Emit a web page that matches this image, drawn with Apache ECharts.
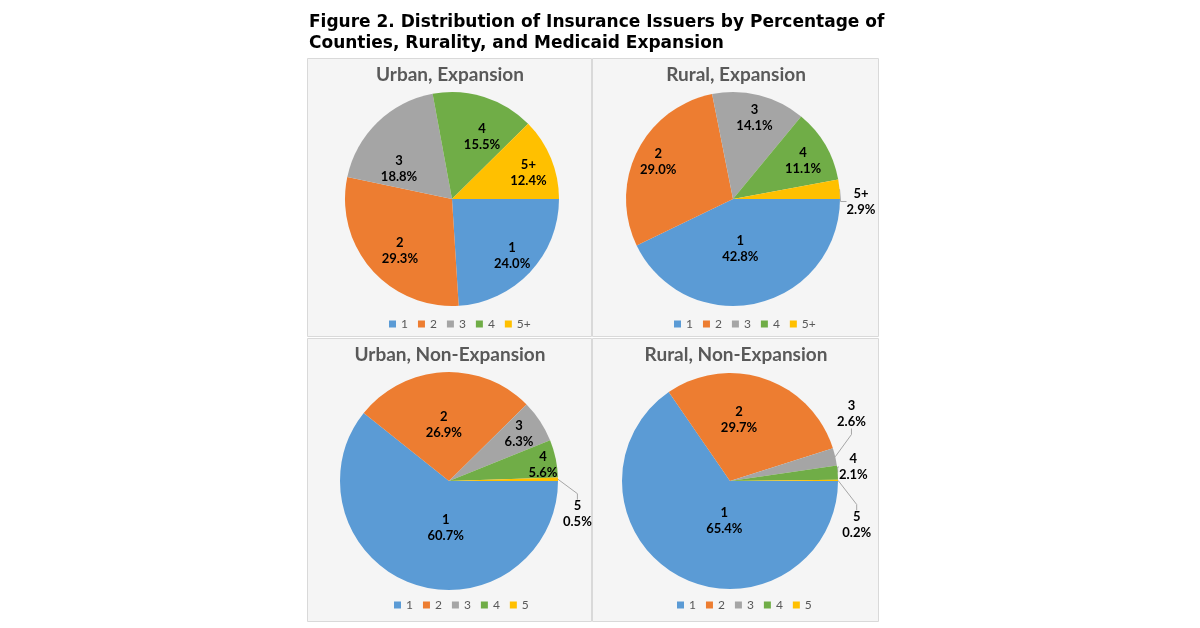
<!DOCTYPE html>
<html>
<head>
<meta charset="utf-8">
<title>Figure 2</title>
<script src="https://cdn.jsdelivr.net/npm/echarts@6/dist/echarts.min.js"></script>
<style>
  html, body { margin: 0; padding: 0; background: #fff; }
  #chart { width: 1200px; height: 628px; }
</style>
</head>
<body>
<div id="chart"></div>
<script>
// data (percent of counties)
const issuersExp = ['1', '2', '3', '4', '5+'];
const issuersNon = ['1', '2', '3', '4', '5'];
const urbanExpansion = [24.0, 29.3, 18.8, 15.5, 12.4];
const ruralExpansion = [42.8, 29.0, 14.1, 11.1, 2.9];
const urbanNonExpansion = [60.7, 26.9, 6.3, 5.6, 0.5];
const ruralNonExpansion = [65.4, 29.7, 2.6, 2.1, 0.2];

const colors = ['#5b9bd5', '#ed7d31', '#a5a5a5', '#70ad47', '#ffc000'];

// layout of the 4 panels
// labelR: radial spot of inside labels (null -> outside label), nudge: small label shifts
const panels = [
  { title: 'Urban, Expansion', names: issuersExp, values: urbanExpansion,
    box: [307, 58, 284, 278], center: [452, 199], r: 107, legendX: 389, legendY: 318,
    labelR: [0.73, 0.68, 0.57, 0.65, 0.75],
    nudge: { 1: [6, 2], 2: [-8, 16], 3: [8, 8], 4: [-2, 6] } },
  { title: 'Rural, Expansion', names: issuersExp, values: ruralExpansion,
    box: [592, 58, 286, 278], center: [733, 199], r: 107, legendX: 674, legendY: 318,
    labelR: [0.45, 0.74, 0.78, 0.74, null],
    nudge: { 0: [-4, 0], 2: [0, 4], 3: [-2, 4], 4: [-12, 13] } },
  { title: 'Urban, Non-Expansion', names: issuersNon, values: urbanNonExpansion,
    box: [307, 338, 284, 283], center: [449, 481], r: 109, legendX: 394, legendY: 599,
    labelR: [0.43, 0.52, 0.77, 0.88, null],
    nudge: { 0: [13, 0], 1: [-2, 4], 2: [-4, 1], 3: [-5, 5], 4: [-14, 35] } },
  { title: 'Rural, Non-Expansion', names: issuersNon, values: ruralNonExpansion,
    box: [592, 338, 286, 283], center: [730, 481], r: 108, legendX: 677, legendY: 599,
    labelR: [0.39, 0.57, null, null, null],
    nudge: { 0: [15, 0], 1: [-12, 0], 2: [-12, -41], 3: [-13, -19], 4: [-4, 8] } }
];

const chart = echarts.init(document.getElementById('chart'));

const graphic = [];
const series = [];
const legend = [];

panels.forEach(function (p) {
  graphic.push({
    type: 'rect', z: 0,
    shape: { x: p.box[0] + 0.5, y: p.box[1] + 0.5, width: p.box[2], height: p.box[3] },
    style: { fill: '#f5f5f5', stroke: '#d9d9d9', lineWidth: 1 }
  });
  graphic.push({
    type: 'text', z: 5,
    style: {
      text: p.title, x: p.box[0] + p.box[2] / 2 + 1, y: p.box[1] + 17,
      align: 'center', verticalAlign: 'middle',
      fontFamily: 'Lato', fontWeight: 'bold', fontSize: 19, fill: '#595959'
    }
  });

  const cx = p.center[0], cy = p.center[1];
  series.push({
    type: 'pie',
    center: p.center,
    radius: [0, p.r],
    startAngle: 0,
    clockwise: true,
    avoidLabelOverlap: true,
    animation: false,
    emphasis: { disabled: true },
    data: p.names.map(function (n, i) {
      const inside = p.labelR[i] != null;
      return {
        name: n, value: p.values[i],
        itemStyle: { color: colors[i] },
        label: { position: inside ? 'inside' : 'outside' },
        labelLine: { show: !inside }
      };
    }),
    label: {
      formatter: function (d) {
        return '{a|' + d.name + '}\n{a|' + d.value.toFixed(1) + '%}';
      },
      rich: {
        a: { fontFamily: 'Lato', fontWeight: 'bold', fontSize: 13, lineHeight: 16,
             color: '#000', align: 'center' }
      }
    },
    labelLine: { length: 8, length2: 6, lineStyle: { color: '#a6a6a6', width: 1 } },
    labelLayout: function (d) {
      const f = p.labelR[d.dataIndex];
      const n = p.nudge[d.dataIndex] || [0, 0];
      const rc = d.labelRect;
      if (f == null) {
        // outside labels: left aligned, middle anchored; absolute x/y so the leader line follows
        return { x: rc.x + n[0], y: rc.y + rc.height / 2 + n[1], align: 'left', verticalAlign: 'middle' };
      }
      const lx = rc.x + rc.width / 2;
      const ly = rc.y + rc.height / 2;
      const k = f / 0.5 - 1;
      return { dx: k * (lx - cx) + n[0], dy: k * (ly - cy) + n[1] };
    }
  });

  legend.push({
    data: p.names,
    left: p.legendX, top: p.legendY,
    icon: 'rect', itemWidth: 7, itemHeight: 7, itemGap: 10,
    padding: 0, selectedMode: false,
    textStyle: { fontFamily: 'Lato', fontSize: 12, color: '#595959' }
  });
});

graphic.push({
  type: 'text', z: 5,
  style: {
    text: 'Figure 2. Distribution of Insurance Issuers by Percentage of\nCounties, Rurality, and Medicaid Expansion',
    x: 309, y: 12, fontFamily: 'DejaVu Sans', fontWeight: 'bold', fontSize: 17,
    lineHeight: 21, fill: '#000'
  }
});

chart.setOption({
  backgroundColor: '#fff',
  animation: false,
  graphic: graphic,
  legend: legend,
  series: series
});
</script>
</body>
</html>
